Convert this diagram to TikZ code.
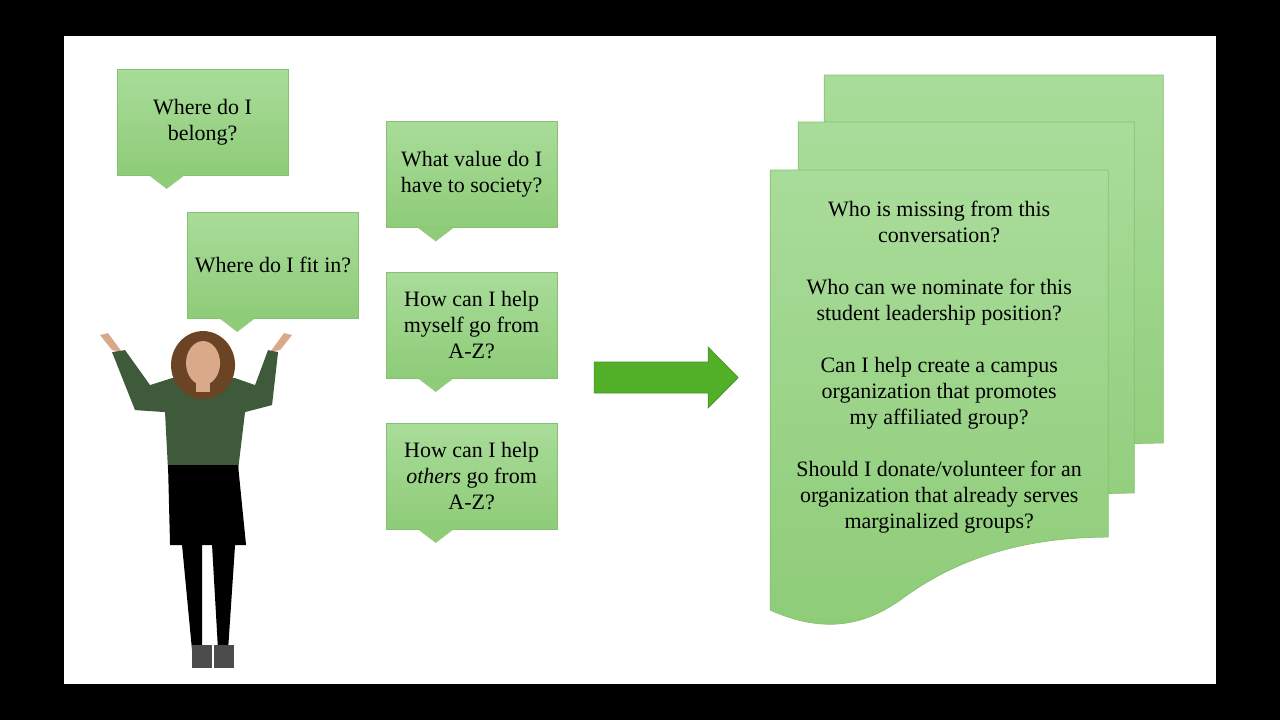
\documentclass[tikz,border=0pt]{standalone}
\usepackage{fontspec}
\setmainfont{Liberation Serif}
\usetikzlibrary{positioning,calc,arrows.meta}
\definecolor{boxtop}{HTML}{A9DC9A}
\definecolor{boxbot}{HTML}{8ECC78}
\definecolor{boxline}{HTML}{86C170}
\definecolor{arrowgreen}{HTML}{52AF28}
\definecolor{sweater}{HTML}{3E5A3A}
\definecolor{hair}{HTML}{6B4426}
\definecolor{skin}{HTML}{D9A98A}
\tikzset{
  bubble/.style={draw=boxline,thin,top color=boxtop,bottom color=boxbot,
    minimum width=171*0.02cm,minimum height=106*0.02cm,
    align=center,font=\fontsize{12.5}{14.8}\selectfont,inner sep=2pt},
  page/.style={draw=boxline,thin,top color=boxtop,bottom color=boxbot}
}
\newcommand{\pointer}[1]{%
  \fill[boxbot] ($(#1.south west)+(33*0.02,0.01)$) -- ++(17*0.02,-13*0.02) -- ++(17*0.02,13*0.02) -- cycle;
  \draw[boxline,thin] ($(#1.south west)+(33*0.02,0)$) -- ++(17*0.02,-13*0.02) -- ++(17*0.02,13*0.02);}
\newcommand{\docpage}[4]{% x1 y1 x2 y2 (px)
  \draw[page] (#1*0.02,-#2*0.02) -- (#3*0.02,-#2*0.02) -- (#3*0.02,-#4*0.02)
    .. controls ({(#3-80)*0.02},{-(#4)*0.02}) and ({(#1+180)*0.02},{-(#4+10)*0.02}) .. ({(#1+85)*0.02},{-(#4+90)*0.02})
    .. controls ({(#1+50)*0.02},{-(#4+90)*0.02}) and ({(#1+20)*0.02},{-(#4+80)*0.02}) .. (#1*0.02,{-(#4+73)*0.02}) -- cycle;}
\begin{document}
\begin{tikzpicture}[x=1cm,y=1cm]
  \fill[black] (0,0) rectangle (25.6,-14.4);
  \fill[white] (64*0.02,-36*0.02) rectangle (1216*0.02,-684*0.02);
  \useasboundingbox (0,0) rectangle (25.6,-14.4);

  % questions
  \node[bubble] (belong) at (202.5*0.02,-122*0.02) {Where do I\\belong?};
  \node[bubble] (fit) at (273*0.02,-265*0.02) {Where do I fit in?};
  \node[bubble] (value) at (471.5*0.02,-174.5*0.02) {What value do I\\have to society?};
  \node[bubble] (myself) at (471.5*0.02,-325*0.02) {How can I help\\myself go from\\A-Z?};
  \node[bubble] (others) at (471.5*0.02,-476*0.02) {How can I help\\\textit{others} go from\\A-Z?};
  \foreach \b in {belong,fit,value,myself,others} {\pointer{\b}}

  % arrow
  \begin{scope}[x=0.02cm,y=-0.02cm]
    \coordinate (go) at (594,377.5);
    \filldraw[fill=arrowgreen,draw=arrowgreen!85!black] (go) ++(0,-15.5) -- (708,362) -- (708,347)
      -- (738,377.5) -- (708,408) -- (708,393) -- (594,393) -- cycle;
  \end{scope}

  % pages
  \docpage{824}{75}{1163}{443}
  \docpage{798}{122}{1134}{493}
  \draw[page] (770*0.02,-170*0.02) -- (1108*0.02,-170*0.02) -- (1108*0.02,-537*0.02)
    .. controls (1030*0.02,-537*0.02) and (960*0.02,-555*0.02) .. (900*0.02,-600*0.02)
    .. controls (860*0.02,-628*0.02) and (820*0.02,-632*0.02) .. (770*0.02,-610*0.02) -- cycle;
  \node[align=center,font=\fontsize{12.5}{14.8}\selectfont] (actions) at (939*0.02,-367*0.02)
    {Who is missing from this\\conversation?\\[14.8pt]
     Who can we nominate for this\\student leadership position?\\[14.8pt]
     Can I help create a campus\\organization that promotes\\my affiliated group?\\[14.8pt]
     Should I donate/volunteer for an\\organization that already serves\\marginalized groups?};

  % person
  \begin{scope}[x=0.02cm,y=-0.02cm]
    \fill[skin] (100,335) -- (112,350) -- (122,352) -- (108,333) -- cycle;
    \fill[skin] (292,335) -- (280,350) -- (270,352) -- (284,333) -- cycle;
    \fill[sweater] (112,352) -- (125,350) -- (150,385) -- (172,378) -- (235,378) -- (255,385) -- (268,350) -- (278,352) -- (272,405) -- (245,412) -- (238,470) -- (168,470) -- (165,412) -- (135,410) -- cycle;
    \fill[black] (168,465) -- (238,465) -- (246,545) -- (170,545) -- cycle;
    \fill[black] (182,545) -- (202,545) -- (202,650) -- (192,650) -- cycle;
    \fill[black] (212,545) -- (235,545) -- (228,650) -- (218,650) -- cycle;
    \fill[black!70] (192,645) rectangle (212,668);
    \fill[black!70] (214,645) rectangle (234,668);
    \fill[hair] (203,365) ellipse (32 and 34);
    \fill[skin] (203,363) ellipse (17 and 22);
    \fill[skin] (196,382) rectangle (210,392);
  \end{scope}
\end{tikzpicture}
\end{document}
